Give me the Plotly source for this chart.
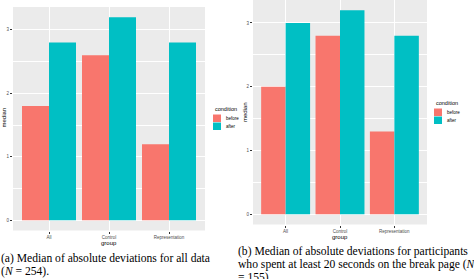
import plotly.graph_objects as go

W, H = 474, 279

groups = ["All", "Control", "Representation"]
conditions = ["before", "after"]
colors = {"before": "#F8766D", "after": "#00BFC4"}

# panel (a): all data
a_before = [1.8, 2.6, 1.2]
a_after = [2.8, 3.2, 2.8]
# panel (b): participants >= 20 s on break page
b_before = [2.0, 2.8, 1.3]
b_after = [3.0, 3.2, 2.8]

y_ticks = [0, 1, 2, 3]

caption_a = ["(a) Median of absolute deviations for all data", "(<i>N</i> = 254)."]
caption_b = ["(b) Median of absolute deviations for participants",
             "who spent at least 20 seconds on the break page (<i>N</i>",
             "= 155)."]

def px_x(p):
    return p / W

def px_y(p):
    return 1 - p / H

fig = go.Figure()

panels = [
    dict(xa="x", ya="y", vals={"before": a_before, "after": a_after},
         xd=[13, 205], yd=[7, 230.5]),
    dict(xa="x2", ya="y2", vals={"before": b_before, "after": b_after},
         xd=[253, 427], yd=[0, 224.5]),
]

for p in panels:
    for c in conditions:
        fig.add_trace(go.Bar(
            x=groups, y=p["vals"][c], name=c, xaxis=p["xa"], yaxis=p["ya"],
            marker=dict(color=colors[c], line=dict(width=0)),
            offsetgroup=c, showlegend=False,
        ))

ymax = max(max(a_after), max(b_after))
yrange = [-0.05 * ymax, ymax * 1.05]

axis_common_x = dict(
    type="category", categoryorder="array", categoryarray=groups,
    range=[-0.6, 2.6], showgrid=True, gridcolor="white", gridwidth=1,
    ticks="outside", ticklen=2, tickwidth=0.6, tickcolor="#333333",
    tickfont=dict(family="Liberation Sans", size=4.5, color="#4D4D4D"),
    zeroline=False, showline=False, fixedrange=True,
)
axis_common_y = dict(
    range=yrange, tickvals=y_ticks, ticktext=[str(t) for t in y_ticks],
    showgrid=True, gridcolor="white", gridwidth=1,
    minor=dict(dtick=0.5, tick0=0, showgrid=True, gridcolor="white", gridwidth=0.5),
    ticks="outside", ticklen=2, tickwidth=0.6, tickcolor="#333333",
    tickfont=dict(family="Liberation Sans", size=4.5, color="#4D4D4D"),
    zeroline=False, showline=False, fixedrange=True,
)

p1, p2 = panels
fig.update_layout(
    width=W, height=H, margin=dict(l=0, r=0, t=0, b=0),
    paper_bgcolor="white", plot_bgcolor="#EBEBEB",
    barmode="group", bargap=0.1, bargroupgap=0,
    showlegend=False,
    xaxis=dict(domain=[px_x(p1["xd"][0]), px_x(p1["xd"][1])], anchor="y", **axis_common_x),
    yaxis=dict(domain=[px_y(p1["yd"][1]), px_y(p1["yd"][0])], anchor="x", **axis_common_y),
    xaxis2=dict(domain=[px_x(p2["xd"][0]), px_x(p2["xd"][1])], anchor="y2", **axis_common_x),
    yaxis2=dict(domain=[px_y(p2["yd"][1]), px_y(p2["yd"][0])], anchor="x2", **axis_common_y),
)

ann = []
shapes = []

def add_text(x, y, text, size, xanchor="center", textangle=0, family="Liberation Sans", color="#000000"):
    ann.append(dict(x=px_x(x), y=px_y(y), xref="paper", yref="paper", text=text,
                    showarrow=False, xanchor=xanchor, yanchor="middle",
                    textangle=textangle, font=dict(family=family, size=size, color=color)))

# axis titles
add_text(3.5, 118, "median", 6, textangle=-90)
add_text(109, 243, "group", 6)
add_text(245, 112, "median", 6, textangle=-90)
add_text(340, 236.5, "group", 6)

# legends
for (lx, ly_title, ly0) in [(213, 109, 114.5), (434, 103, 108.5)]:
    add_text(lx - 0.5, ly_title, "condition", 5.5, xanchor="left")
    for i, c in enumerate(conditions):
        y0 = ly0 + i * 8
        shapes.append(dict(type="rect", xref="paper", yref="paper",
                           x0=px_x(lx), x1=px_x(lx + 8), y0=px_y(y0 + 7.5), y1=px_y(y0),
                           fillcolor=colors[c], line=dict(width=0)))
        add_text(lx + 11, y0 + 3.8, c, 4.5, xanchor="left")

# captions
serif = "Liberation Serif"
for i, line in enumerate(caption_a):
    add_text(-1.5, 258 + i * 13, line, 11.6, xanchor="left", family=serif)
for i, line in enumerate(caption_b):
    add_text(236, 251.5 + i * 13, line, 11.6, xanchor="left", family=serif)

fig.update_layout(annotations=ann, shapes=shapes)
fig.write_html("out.html")
